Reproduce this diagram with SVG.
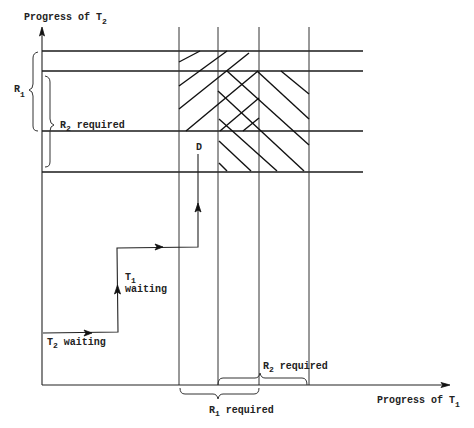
<svg xmlns="http://www.w3.org/2000/svg" width="474" height="428" viewBox="0 0 474 428">
<style>
  .ln{stroke:#222;stroke-width:1.1;fill:none}
  .hz{stroke:#1a1a1a;stroke-width:1.4;fill:none}
  .vt{stroke:#333;stroke-width:1;fill:none}
  .ht{stroke:#111;stroke-width:1.4;fill:none}
  .br{stroke:#333;stroke-width:1;fill:none}
  .ah{fill:#111;stroke:#111;stroke-width:0.8}
  .tx{font-family:"Liberation Mono","DejaVu Sans Mono",monospace;font-size:10px;font-weight:bold;fill:#222}
  .sb{font-size:8px}
</style>
<rect width="474" height="428" fill="#fff"/>
<g id="grid">
  <line class="hz" x1="42" y1="51" x2="363" y2="51"/>
  <line class="hz" x1="42" y1="71" x2="363" y2="71"/>
  <line class="hz" x1="42" y1="131" x2="363" y2="131"/>
  <line class="hz" x1="42" y1="172" x2="363" y2="172"/>
  <line class="vt" x1="179" y1="27" x2="179" y2="385"/>
  <line class="vt" x1="218" y1="27" x2="218" y2="385"/>
  <line class="vt" x1="259" y1="27" x2="259" y2="385"/>
  <line class="vt" x1="309" y1="27" x2="309" y2="385"/>
</g>
<g id="hatch-R1">
  <line class="ht" x1="179" y1="62" x2="200" y2="51"/>
  <line class="ht" x1="179" y1="86" x2="227" y2="51"/>
  <line class="ht" x1="179" y1="109" x2="249" y2="53"/>
  <line class="ht" x1="186" y1="131" x2="258" y2="71"/>
  <line class="ht" x1="220" y1="131" x2="259" y2="98"/>
  <line class="ht" x1="243" y1="131" x2="259" y2="118"/>
</g>
<g id="hatch-R2">
  <line class="ht" x1="281" y1="71" x2="309" y2="94"/>
  <line class="ht" x1="257" y1="71" x2="309" y2="119"/>
  <line class="ht" x1="227" y1="71" x2="309" y2="145"/>
  <line class="ht" x1="218" y1="91" x2="304" y2="171"/>
  <line class="ht" x1="219" y1="119" x2="277" y2="171"/>
  <line class="ht" x1="219" y1="141" x2="251" y2="171"/>
  <line class="ht" x1="219" y1="163" x2="227" y2="171"/>
</g>
<g id="axes">
  <line class="ln" x1="42" y1="385" x2="42" y2="29"/>
  <path class="ah" d="M39.5,36 L42,27 L44.5,36 L42,34 Z"/>
  <line class="ln" x1="42" y1="385" x2="448" y2="385"/>
  <path class="ah" d="M441,382.5 L450,385 L441,387.5 L443,385 Z"/>
</g>
<g id="braces">
  <path class="br" d="M38,52 Q33,53 33,58 L33,84 Q33,89 29,90 Q33,91 33,96 L33,126 Q33,131 38,131"/>
  <path class="br" d="M45,76 Q50,77 50,82 L50,119 Q50,124 54,125 Q50,126 50,131 L50,162 Q50,167 45,167"/>
  <path class="br" d="M218,385 Q218,378 223,378 L255,378 Q259,378 260,373 Q261,378 265,378 L302,378 Q307,378 307,385"/>
  <path class="br" d="M180,388 Q180,394 185,394 L213,394 Q217,394 218,399 Q219,394 223,394 L254,394 Q259,394 259,388"/>
</g>
<g id="connectors">
  <path class="ln" d="M43,333 L118,332 L117,248 L198,247 L198,154"/>
  <path class="ah" d="M84,330 L92,333 L84,336 L86,333 Z"/>
  <path class="ah" d="M114.5,294 L117.5,285 L120.5,294 L117.5,292 Z"/>
  <path class="ah" d="M155,244 L163,247 L155,250 L157,247 Z"/>
  <path class="ah" d="M195,212 L198,203 L201,212 L198,210 Z"/>
</g>
<g id="labels">
  <text class="tx" x="24" y="20">Progress of T<tspan class="sb" dy="4">2</tspan></text>
  <text class="tx" x="377" y="403">Progress of T<tspan class="sb" dy="4">1</tspan></text>
  <text class="tx" x="14" y="92">R<tspan class="sb" dy="5">1</tspan></text>
  <text class="tx" x="60" y="128">R<tspan class="sb" dy="3">2</tspan><tspan dy="-3"> required</tspan></text>
  <text class="tx" x="263" y="369">R<tspan class="sb" dy="3">2</tspan><tspan dy="-3"> required</tspan></text>
  <text class="tx" x="209" y="413">R<tspan class="sb" dy="3">1</tspan><tspan dy="-3"> required</tspan></text>
  <text class="tx" x="47" y="345">T<tspan class="sb" dy="3">2</tspan><tspan dy="-3"> waiting</tspan></text>
  <text class="tx" x="125" y="280">T<tspan class="sb" dy="3">1</tspan></text>
  <text class="tx" x="125" y="292">waiting</text>
  <text class="tx" x="196" y="150">D</text>
</g>
</svg>
